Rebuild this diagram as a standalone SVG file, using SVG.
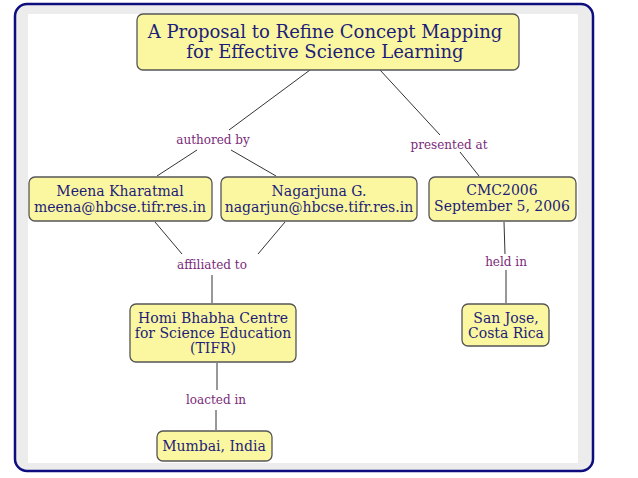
<svg xmlns="http://www.w3.org/2000/svg" width="638" height="478" viewBox="0 0 638 478">
<style>
.n rect{fill:#fbf7a0;stroke:#555;stroke-width:1.3}
.n text{font-family:"DejaVu Serif",serif;fill:#1d1d7a;text-anchor:middle}
.l{font-family:"DejaVu Serif",serif;fill:#7a2a7a;font-size:12px;text-anchor:middle}
#c line{stroke:#333;stroke-width:1}
</style>
<rect x="0" y="0" width="638" height="478" fill="#fff"/>
<rect x="15" y="4" width="578" height="467" rx="12" fill="#ececec" stroke="#0d0d80" stroke-width="2.5"/>
<rect x="28" y="14" width="550" height="449" fill="#fff"/>
<g id="c">
<line x1="310" y1="70" x2="229" y2="130"/>
<line x1="197" y1="150" x2="157" y2="176"/>
<line x1="231" y1="150" x2="276" y2="176"/>
<line x1="380" y1="70" x2="440" y2="135"/>
<line x1="460" y1="152" x2="479" y2="176"/>
<line x1="155" y1="222" x2="182" y2="254"/>
<line x1="285" y1="222" x2="258" y2="254"/>
<line x1="212" y1="275" x2="212" y2="303"/>
<line x1="217" y1="363" x2="217" y2="390"/>
<line x1="216" y1="410" x2="216" y2="430"/>
<line x1="504" y1="222" x2="505" y2="254"/>
<line x1="506" y1="270" x2="506" y2="303"/>
</g>
<text class="l" x="213" y="144">authored by</text>
<text class="l" x="449" y="149">presented at</text>
<text class="l" x="212" y="269">affiliated to</text>
<text class="l" x="506" y="266">held in</text>
<text class="l" x="216" y="404">loacted in</text>
<g id="title" class="n"><rect x="137" y="14" width="382" height="56" rx="6"/><text x="325" y="38" font-size="18">A Proposal to Refine Concept Mapping</text><text x="325" y="58" font-size="18">for Effective Science Learning</text></g>
<g id="meena" class="n"><rect x="29" y="177" width="183" height="44" rx="6"/><text x="120" y="196" font-size="14">Meena Kharatmal</text><text x="120" y="212" font-size="14">meena@hbcse.tifr.res.in</text></g>
<g id="nagarjuna" class="n"><rect x="221" y="177" width="196" height="44" rx="6"/><text x="319" y="196" font-size="14">Nagarjuna G.</text><text x="319" y="212" font-size="14">nagarjun@hbcse.tifr.res.in</text></g>
<g id="cmc" class="n"><rect x="429" y="177" width="147" height="44" rx="6"/><text x="502" y="195" font-size="14">CMC2006</text><text x="502" y="211" font-size="14">September 5, 2006</text></g>
<g id="homi" class="n"><rect x="130" y="304" width="166" height="58" rx="6"/><text x="213" y="323" font-size="14">Homi Bhabha Centre</text><text x="213" y="338" font-size="14">for Science Education</text><text x="213" y="353" font-size="14">(TIFR)</text></g>
<g id="sanjose" class="n"><rect x="462" y="304" width="87" height="42" rx="6"/><text x="506" y="323" font-size="14">San Jose,</text><text x="506" y="338" font-size="14">Costa Rica</text></g>
<g id="mumbai" class="n"><rect x="157" y="431" width="115" height="30" rx="6"/><text x="214" y="451" font-size="14">Mumbai, India</text></g>
</svg>
